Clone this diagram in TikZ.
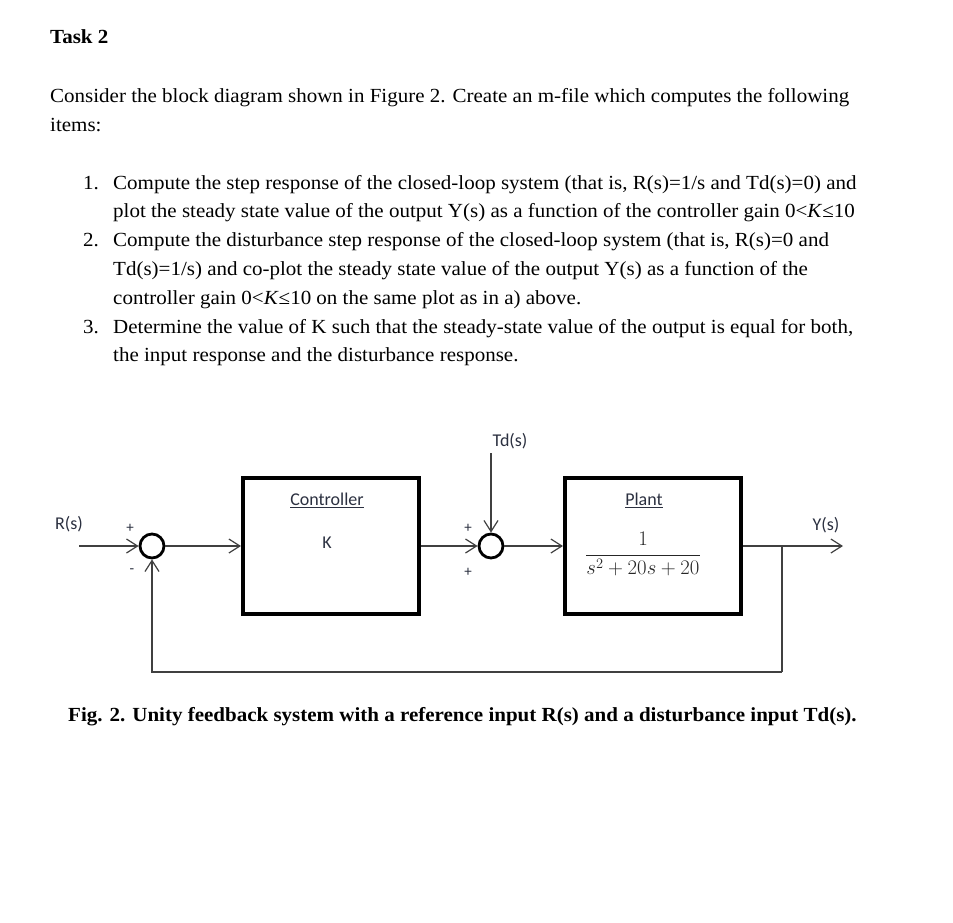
\documentclass[tikz,border=0pt]{standalone}
\usepackage{fontspec}
\setmainfont[FakeStretch=1.05]{Liberation Serif}
\newfontfamily\diagfont{Carlito}
\usetikzlibrary{arrows.meta,positioning}
\definecolor{lblgray}{HTML}{2B3040}
\definecolor{wire}{HTML}{404040}

\begin{document}
\begin{tikzpicture}[x=1pt,y=-1pt,
  txt/.style={inner sep=0pt,font=\fontsize{20}{28.8}\selectfont,align=left},
  blk/.style={draw,line width=4pt,minimum width=176pt,minimum height=136pt,inner sep=0pt},
  sumc/.style={draw,circle,line width=2.8pt,minimum size=24pt,inner sep=0pt},
  lbl/.style={inner sep=0pt,font=\diagfont\fontsize{18}{20}\selectfont,text=lblgray},
  sgn/.style={inner sep=0pt,font=\diagfont\fontsize{15}{16}\selectfont,text=lblgray},
  ar/.style={-{Straight Barb[length=11pt,width=14pt]},line width=1.2pt,draw=wire},
  ln/.style={line width=1.2pt,draw=wire}
]
\useasboundingbox (0,0) rectangle (953,922);
% task text (base anchor = last line)
\node[txt,font=\bfseries\fontsize{20}{28.8}\selectfont,anchor=base west] (task) at (50,43) {Task 2};
\node[txt,anchor=base west] (intro) at (50,131)
  {Consider the block diagram shown in Figure 2. Create an m-file which computes the following\\
   items:};
\node[txt,anchor=base west] (n1) at (83,189) {1.};
\node[txt,anchor=base west] (it1) at (113,217.8)
  {Compute the step response of the closed-loop system (that is, R(s)=1/s and Td(s)=0) and\\
   plot the steady state value of the output Y(s) as a function of the controller gain 0<\textit{K}≤10};
\node[txt,anchor=base west] (n2) at (83,246.6) {2.};
\node[txt,anchor=base west] (it2) at (113,304.2)
  {Compute the disturbance step response of the closed-loop system (that is, R(s)=0 and\\
   Td(s)=1/s) and co-plot the steady state value of the output Y(s) as a function of the\\
   controller gain 0<\textit{K}≤10 on the same plot as in a) above.};
\node[txt,anchor=base west] (n3) at (83,333) {3.};
\node[txt,anchor=base west] (it3) at (113,361.8)
  {Determine the value of K such that the steady-state value of the output is equal for both,\\
   the input response and the disturbance response.};
% blocks
\node[sumc] (sum1) at (152,546) {};
\node[blk] (ctrl) at (331,546) {};
\node[sumc] (sum2) at (491,546) {};
\node[blk] (plant) at (653,546) {};
\node[lbl] (ctrlname) at (327,500) {\underline{Controller}};
\node[lbl] (ctrlk) at (327,543) {K};
\node[lbl] (plantname) at (644,500) {\underline{Plant}};
\node[inner sep=0pt,font=\fontsize{20.5}{24}\selectfont,text=black!85] (pfrac) at (643,554)
  {$\displaystyle\frac{1}{s^2+20s+20}$};
% signals
\coordinate (rin) at (79,546);
\coordinate (tdin) at (491,453);
\coordinate (yout) at (843,546);
\coordinate (branch) at (782,546);
\coordinate (fbr) at (782,672);
\node[lbl] (rlab) at (69,524) {R(s)};
\node[lbl] (tdlab) at (510,441) {Td(s)};
\node[lbl] (ylab) at (826,525) {Y(s)};
\node[sgn] (p1) at (130,528) {+};
\node[sgn] (m1) at (132,571) {-};
\node[sgn] (p2) at (468,528) {+};
\node[sgn] (p3) at (468,572) {+};
\draw[ar] (rin) -- (sum1);
\draw[ar] (sum1) -- (ctrl);
\draw[ar] (ctrl) -- (sum2);
\draw[ar] (tdin) -- (sum2);
\draw[ar] (sum2) -- (plant);
\draw[ar] (plant) -- (yout);
\draw[ln] (branch) -- (fbr);
\draw[ar] (fbr) -| (sum1);
% caption
\node[txt,font=\bfseries\fontsize{20}{28.8}\selectfont,anchor=base west] (cap) at (68,721)
  {Fig. 2. Unity feedback system with a reference input R(s) and a disturbance input Td(s).};
\end{tikzpicture}
\end{document}
